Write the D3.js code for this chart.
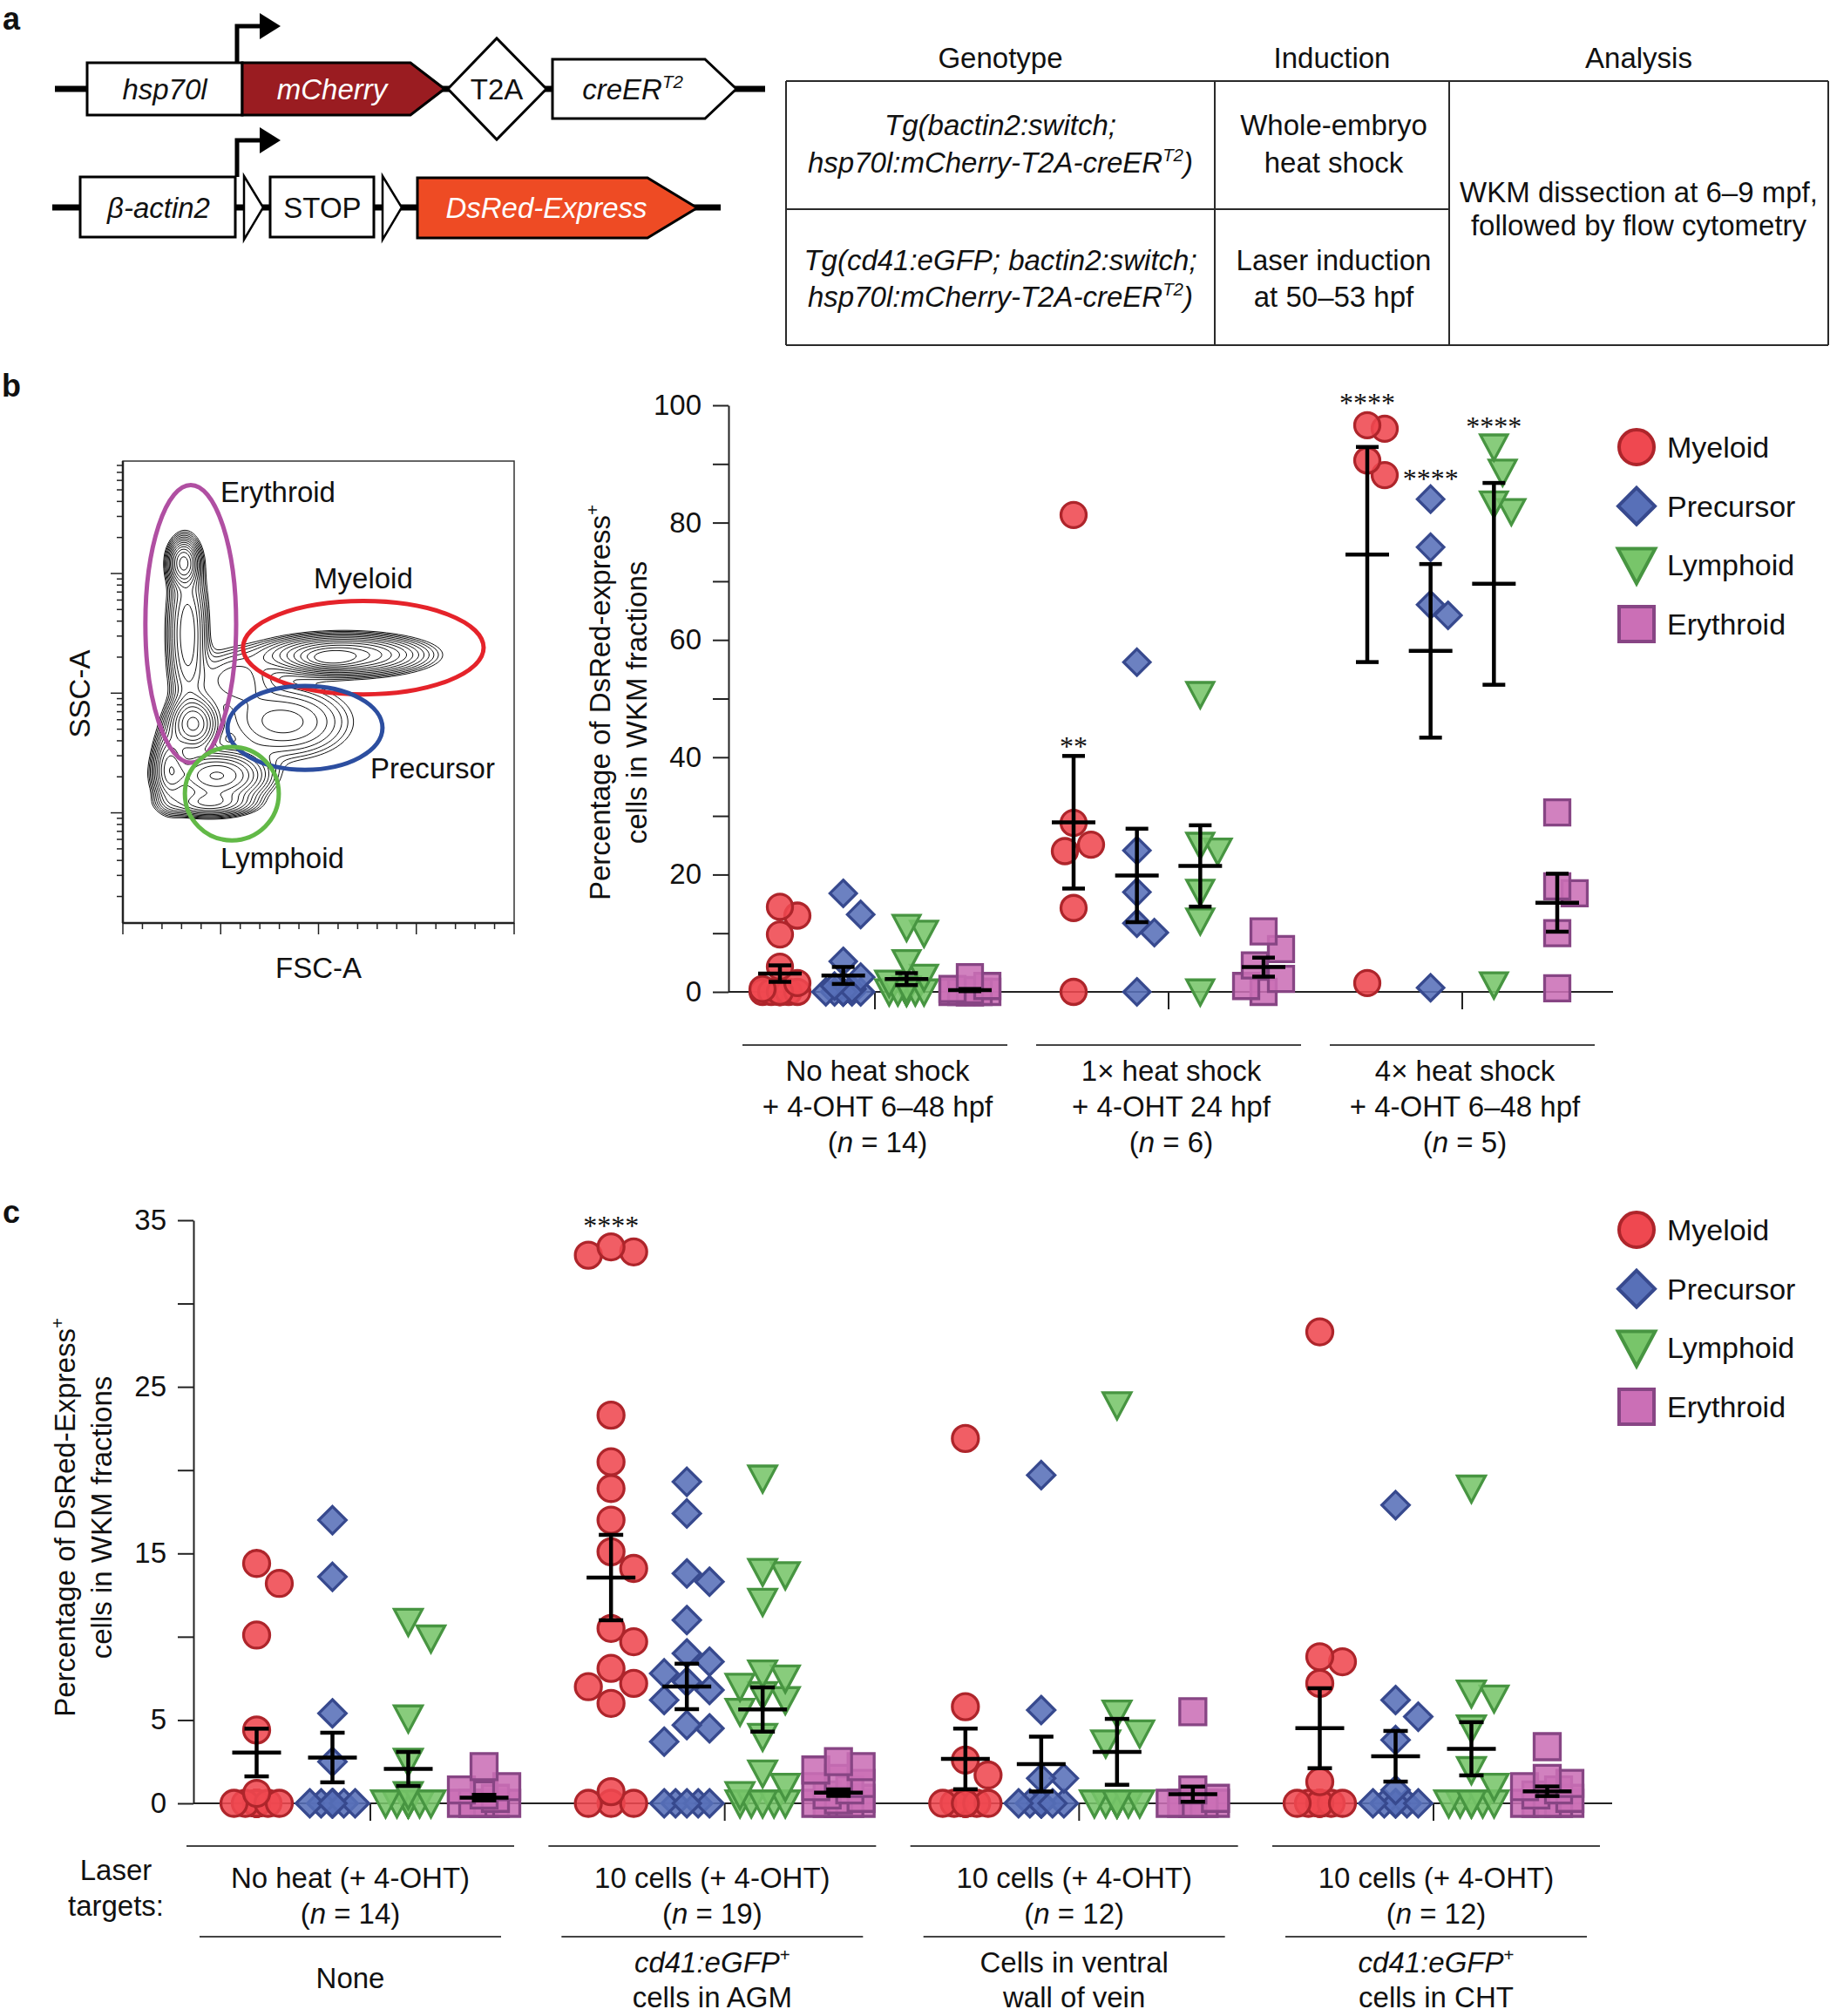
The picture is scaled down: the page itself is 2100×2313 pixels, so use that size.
<!DOCTYPE html>
<html>
<head>
<meta charset="utf-8">
<script src="https://cdnjs.cloudflare.com/ajax/libs/d3/7.8.5/d3.min.js"></script>
<style>
  body { margin: 0; background: #fff; }
  svg text { font-family: "Liberation Sans", Arial, Helvetica, sans-serif; fill: #111; }
  .plabel { font-weight: bold; font-size: 36px; }
  .stars { font-family: "Liberation Serif", "DejaVu Serif", serif !important; font-size: 32px; }
</style>
</head>
<body>
<div id="fig"></div>
<script>
// ---------------- DATA ----------------
var cellTypes = ["Myeloid", "Precursor", "Lymphoid", "Erythroid"];

// panel b : groups and values (% DsRed-express+ cells)
var bGroupLines = [
  ["No heat shock", "+ 4-OHT 6–48 hpf", "14"],
  ["1× heat shock", "+ 4-OHT 24 hpf", "6"],
  ["4× heat shock", "+ 4-OHT 6–48 hpf", "5"]
];
var bMyeloid = [
  [14.5, 13, 9.8, 4.3, 1.5, 0.5, 0, 0, 0, 0, 0, 0, 0, 0],
  [81.3, 28.8, 25.1, 24, 14.3, 0],
  [96, 96.6, 90.6, 88.1, 1.5]
];
var bPrecursor = [
  [16.8, 13.2, 5.2, 2.5, 1, 0.5, 0, 0, 0, 0, 0, 0, 0, 0],
  [56.2, 24.1, 17, 11.7, 10.1, 0],
  [84, 75.8, 66, 64.2, 0.7]
];
var bLymphoid = [
  [11, 10, 5, 2.5, 1.5, 0.5, 0, 0, 0, 0, 0, 0, 0, 0],
  [50.7, 25, 24, 17, 12.1, 0],
  [92.9, 88.6, 83.2, 81.9, 1.2]
];
var bErythroid = [
  [2.5, 1, 0.5, 0.3, 0, 0, 0, 0, 0, 0, 0, 0, 0, 0],
  [10.3, 7.3, 4.5, 2.2, 1, 0],
  [30.6, 18, 16.8, 10, 0.6]
];
// significance marks: group, cell type, level (value) where the marks sit
var bStars = [
  { group: 1, type: "Myeloid", text: "**", at: 42.5 },
  { group: 2, type: "Myeloid", text: "****", at: 101 },
  { group: 2, type: "Precursor", text: "****", at: 88.1 },
  { group: 2, type: "Lymphoid", text: "****", at: 97 }
];
var bTicks = [0, 10, 20, 30, 40, 50, 60, 70, 80, 90, 100];
var bTickLabels = [0, 20, 40, 60, 80, 100];

// panel c
var cGroupLines = [
  ["No heat (+ 4-OHT)", "14"],
  ["10 cells (+ 4-OHT)", "19"],
  ["10 cells (+ 4-OHT)", "12"],
  ["10 cells (+ 4-OHT)", "12"]
];
var cTargets = [
  [["None"]],
  [[{ t: "cd41:eGFP", i: true }, { t: "+", sup: true }], ["cells in AGM"]],
  [["Cells in ventral"], ["wall of vein"]],
  [[{ t: "cd41:eGFP", i: true }, { t: "+", sup: true }], ["cells in CHT"]]
];
var cMyeloid = [
  [14.4, 13.2, 10.1, 4.4, 0.6, 0, 0, 0, 0, 0, 0, 0, 0, 0],
  [33.4, 33.1, 32.9, 23.3, 20.5, 18.9, 17, 15.1, 14.1, 10.5, 9.7, 8.1, 7.2, 7.0, 6.0, 0.7, 0, 0, 0],
  [21.9, 5.8, 2.6, 1.7, 0, 0, 0, 0, 0, 0, 0, 0],
  [28.3, 8.8, 8.5, 7.2, 1.3, 0, 0, 0, 0, 0, 0, 0]
];
var cPrecursor = [
  [17, 13.6, 5.4, 2.5, 0, 0, 0, 0, 0, 0, 0, 0, 0, 0],
  [19.3, 17.4, 13.8, 13.3, 11, 9, 8.5, 7.8, 7.3, 6.8, 6.2, 4.7, 4.5, 3.7, 0, 0, 0, 0, 0],
  [19.7, 5.6, 1.5, 1.5, 0, 0, 0, 0, 0, 0, 0, 0],
  [17.9, 6.2, 5.2, 3.8, 0.8, 0, 0, 0, 0, 0, 0, 0]
];
var cLymphoid = [
  [10.9, 9.9, 5.1, 2.5, 0.5, 0, 0, 0, 0, 0, 0, 0, 0, 0],
  [19.5, 13.9, 13.7, 12.1, 7.8, 7.5, 7.0, 6.5, 6.2, 5.5, 4.0, 1.8, 1.0, 0.5, 0, 0, 0, 0, 0],
  [23.9, 5.4, 4.2, 3.6, 0, 0, 0, 0, 0, 0, 0, 0],
  [18.9, 6.6, 6.3, 4.5, 2.0, 1.0, 0, 0, 0, 0, 0, 0]
];
var cErythroid = [
  [2.2, 1, 0.8, 0.5, 0.3, 0, 0, 0, 0, 0, 0, 0, 0, 0],
  [2.5, 2.2, 2, 1.5, 1.2, 1, 0.8, 0.5, 0.3, 0.2, 0, 0, 0, 0, 0, 0, 0, 0, 0],
  [5.5, 0.8, 0.3, 0, 0, 0, 0, 0, 0, 0, 0, 0],
  [3.4, 1.5, 1.2, 1, 0.8, 0.5, 0.3, 0, 0, 0, 0, 0]
];
var cStars = [{ group: 1, type: "Myeloid", text: "****", at: 34.9 }];
var cTicks = [0, 5, 10, 15, 20, 25, 30, 35];
var cTickLabels = [0, 5, 15, 25, 35];

// flow cytometry plot: populations (FSC in K, log10 SSC), and gates
var populations = [
  { f: 31, l: 5.09, sf: 4, sl: 0.10, w: 1.0 },
  { f: 33, l: 4.50, sf: 5.5, sl: 0.36, w: 0.45 },
  { f: 36, l: 3.74, sf: 6.5, sl: 0.12, w: 1.0 },
  { f: 48, l: 3.31, sf: 13, sl: 0.11, w: 1.0 },
  { f: 24, l: 3.38, sf: 4.5, sl: 0.17, w: 0.6 },
  { f: 44, l: 3.08, sf: 12, sl: 0.06, w: 0.55 },
  { f: 113, l: 4.32, sf: 21, sl: 0.085, w: 0.9 },
  { f: 106, l: 4.29, sf: 8, sl: 0.045, w: 0.5 },
  { f: 82, l: 3.76, sf: 20, sl: 0.18, w: 0.25 },
  { f: 57, l: 4.12, sf: 12, sl: 0.14, w: 0.2 }
];
var gates = [
  { name: "Erythroid", f: 34.7, l: 4.58, rf: 23.2, rl: 1.16, color: "#B04FA2" },
  { name: "Myeloid", f: 122.9, l: 4.38, rf: 61.5, rl: 0.39, color: "#E5232A" },
  { name: "Precursor", f: 93.1, l: 3.71, rf: 39.6, rl: 0.35, color: "#2C4EA0" },
  { name: "Lymphoid", f: 55.7, l: 3.16, rf: 24, rl: 0.39, color: "#62B947" }
];

// ---------------- STYLE ----------------
var FS = 33;
var markerStyle = {
  Myeloid:   { fill: "#EF4850", stroke: "#AE252B" },
  Precursor: { fill: "#5870B8", stroke: "#37498E" },
  Lymphoid:  { fill: "#78C56A", stroke: "#479541" },
  Erythroid: { fill: "#CB6FB6", stroke: "#874584" }
};

var W = 2100, H = 2313;
var svg = d3.select("#fig").append("svg")
  .attr("width", W).attr("height", H)
  .attr("viewBox", "0 0 " + W + " " + H);
svg.append("rect").attr("width", W).attr("height", H).attr("fill", "#fff");

// text with italic / superscript runs
function addText(parent, x, y, parts, o) {
  o = o || {};
  var size = o.size || FS;
  var t = parent.append("text").attr("x", x).attr("y", y)
    .attr("text-anchor", o.anchor || "middle")
    .style("font-size", size + "px");
  if (o.fill) t.style("fill", o.fill);
  if (o.transform) t.attr("transform", o.transform);
  var raised = false;
  parts.forEach(function(p) {
    if (typeof p === "string") p = { t: p };
    var s = t.append("tspan").text(p.t);
    if (p.i || o.italic) s.style("font-style", "italic");
    if (p.sup) {
      s.style("font-size", (size * 0.62) + "px").attr("dy", -size * 0.4);
      raised = true;
    } else if (raised) {
      s.attr("dy", size * 0.4);
      raised = false;
    }
  });
  return t;
}

// marker shapes
function markerPath(type, s) {
  if (type === "Myeloid") {
    return "M" + (-s) + ",0a" + s + "," + s + " 0 1,0 " + (2 * s) + ",0a" + s + "," + s + " 0 1,0 " + (-2 * s) + ",0Z";
  }
  if (type === "Precursor") {
    var h = s * 1.05;
    return "M0," + (-h) + "L" + h + ",0L0," + h + "L" + (-h) + ",0Z";
  }
  if (type === "Lymphoid") {
    var w = s * 1.07, hh = s * 1.0;
    return "M" + (-w) + "," + (-hh * 0.95) + "L" + w + "," + (-hh * 0.95) + "L0," + (hh * 1.05) + "Z";
  }
  var q = s * 1.0;
  return "M" + (-q) + "," + (-q) + "H" + q + "V" + q + "H" + (-q) + "Z";
}

// ================= PANEL a =================
var pa = svg.append("g");
pa.append("text").attr("class", "plabel").attr("x", 3).attr("y", 34).text("a");

function arrowShape(x0, x1, tip, y0, y1) {
  var m = (y0 + y1) / 2;
  return "M" + x0 + "," + y0 + "H" + x1 + "L" + tip + "," + m + "L" + x1 + "," + y1 + "H" + x0 + "Z";
}
function promoter(x, yBox) {
  pa.append("path").attr("d", "M" + x + "," + yBox + "V" + (yBox - 42) + "H" + 302)
    .attr("fill", "none").attr("stroke", "#000").attr("stroke-width", 5);
  pa.append("path").attr("d", "M" + 298 + "," + (yBox - 57) + "L" + 322 + "," + (yBox - 42) + "L" + 298 + "," + (yBox - 27) + "Z")
    .attr("fill", "#000");
}
var r1 = 102, r2 = 238;
pa.append("line").attr("x1", 63).attr("x2", 878).attr("y1", r1).attr("y2", r1).attr("stroke", "#000").attr("stroke-width", 7);
pa.append("rect").attr("x", 100).attr("y", 72).attr("width", 178).attr("height", 60).attr("fill", "#fff").attr("stroke", "#000").attr("stroke-width", 3);
pa.append("path").attr("d", arrowShape(278, 471, 510, 72, 132)).attr("fill", "#9A1C21").attr("stroke", "#000").attr("stroke-width", 3);
pa.append("path").attr("d", "M514," + r1 + "L570,44L627," + r1 + "L570,160Z").attr("fill", "#fff").attr("stroke", "#000").attr("stroke-width", 3);
pa.append("path").attr("d", arrowShape(634, 809, 845, 68, 136)).attr("fill", "#fff").attr("stroke", "#000").attr("stroke-width", 3);
promoter(272, 72);
addText(pa, 189, r1 + 12, [{ t: "hsp70l", i: true }]);
addText(pa, 381, r1 + 12, [{ t: "mCherry", i: true }], { fill: "#fff" });
addText(pa, 570, r1 + 12, ["T2A"]);
addText(pa, 726, r1 + 12, [{ t: "creER", i: true }, { t: "T2", sup: true, i: true }]);

pa.append("line").attr("x1", 60).attr("x2", 827).attr("y1", r2).attr("y2", r2).attr("stroke", "#000").attr("stroke-width", 7);
pa.append("rect").attr("x", 92).attr("y", 203).attr("width", 178).attr("height", 69).attr("fill", "#fff").attr("stroke", "#000").attr("stroke-width", 3);
[280, 439].forEach(function(x) {
  pa.append("path").attr("d", "M" + x + ",202L" + (x + 22) + "," + r2 + "L" + x + ",275Z")
    .attr("fill", "#fff").attr("stroke", "#000").attr("stroke-width", 2.5);
});
pa.append("rect").attr("x", 310).attr("y", 203).attr("width", 119).attr("height", 69).attr("fill", "#fff").attr("stroke", "#000").attr("stroke-width", 3);
pa.append("path").attr("d", arrowShape(479, 743, 800, 204, 273)).attr("fill", "#EE4B24").attr("stroke", "#000").attr("stroke-width", 3);
promoter(272, 203);
addText(pa, 182, r2 + 12, [{ t: "β-actin2", i: true }]);
addText(pa, 370, r2 + 12, ["STOP"]);
addText(pa, 627, r2 + 12, [{ t: "DsRed-Express", i: true }], { fill: "#fff" });

// table
var colX = [902, 1394, 1663, 2098], rowY = [93, 240, 396];
var tb = pa.append("g").attr("stroke", "#2a2a2a").attr("stroke-width", 2);
tb.append("line").attr("x1", colX[0]).attr("x2", colX[3]).attr("y1", rowY[0]).attr("y2", rowY[0]);
tb.append("line").attr("x1", colX[0]).attr("x2", colX[3]).attr("y1", rowY[2]).attr("y2", rowY[2]);
tb.append("line").attr("x1", colX[0]).attr("x2", colX[2]).attr("y1", rowY[1]).attr("y2", rowY[1]);
colX.forEach(function(x) { tb.append("line").attr("x1", x).attr("x2", x).attr("y1", rowY[0]).attr("y2", rowY[2]); });
var colC = [(colX[0] + colX[1]) / 2, (colX[1] + colX[2]) / 2, (colX[2] + colX[3]) / 2];
["Genotype", "Induction", "Analysis"].forEach(function(h, i) { addText(pa, colC[i], 78, [h]); });
var hspLine = [{ t: "hsp70l:mCherry-T2A-creER", i: true }, { t: "T2", sup: true, i: true }, { t: ")", i: true }];
addText(pa, colC[0], 155, [{ t: "Tg(bactin2:switch;", i: true }]);
addText(pa, colC[0], 198, hspLine);
addText(pa, colC[0], 310, [{ t: "Tg(cd41:eGFP; bactin2:switch;", i: true }]);
addText(pa, colC[0], 352, hspLine);
addText(pa, colC[1] + 2, 155, ["Whole-embryo"]);
addText(pa, colC[1] + 2, 198, ["heat shock"]);
addText(pa, colC[1] + 2, 310, ["Laser induction"]);
addText(pa, colC[1] + 2, 352, ["at 50–53 hpf"]);
addText(pa, colC[2], 232, ["WKM dissection at 6–9 mpf,"]);
addText(pa, colC[2], 270, ["followed by flow cytometry"]);

// ================= PANEL b: flow plot =================
svg.append("text").attr("class", "plabel").attr("x", 2).attr("y", 455).text("b");
var fl = svg.append("g");
var fsc = d3.scaleLinear().domain([0, 200]).range([141, 590]);
var ssc = d3.scaleLog().domain([120, 870000]).range([1059, 529]);
var fx0 = fsc.range()[0], fx1 = fsc.range()[1], fy0 = ssc.range()[1], fy1 = ssc.range()[0];

// density contours
var step = 2;
var nx = Math.ceil((fx1 - fx0) / step), ny = Math.ceil((fy1 - fy0) / step);
var grid = new Float64Array(nx * ny);
for (var j = 0; j < ny; j++) {
  var lv = Math.log10(ssc.invert(fy0 + (j + 0.5) * step));
  for (var i = 0; i < nx; i++) {
    var fv = fsc.invert(fx0 + (i + 0.5) * step), s = 0;
    populations.forEach(function(p) {
      var a = (fv - p.f) / p.sf, b = (lv - p.l) / p.sl;
      s += p.w * Math.exp(-0.5 * (a * a + b * b));
    });
    grid[j * nx + i] = s;
  }
}
var levels = d3.range(13).map(function(k) { return 0.05 * Math.pow(1.28, k); });
var contours = d3.contours().size([nx, ny]).thresholds(levels)(grid);
var proj = d3.geoPath(d3.geoIdentity().scale(step).translate([fx0, fy0]));
fl.append("clipPath").attr("id", "flowclip").append("rect")
  .attr("x", fx0).attr("y", fy0).attr("width", fx1 - fx0).attr("height", fy1 - fy0);
fl.append("g").attr("clip-path", "url(#flowclip)").selectAll("path").data(contours).enter().append("path")
  .attr("d", proj).attr("fill", "none").attr("stroke", "#111").attr("stroke-width", 1);

// frame and ticks
fl.append("rect").attr("x", fx0).attr("y", fy0).attr("width", fx1 - fx0).attr("height", fy1 - fy0)
  .attr("fill", "none").attr("stroke", "#333").attr("stroke-width", 1.5);
fl.append("line").attr("x1", fx0).attr("x2", fx0).attr("y1", fy0).attr("y2", fy1).attr("stroke", "#222").attr("stroke-width", 2.5);
fl.append("line").attr("x1", fx0).attr("x2", fx1).attr("y1", fy1).attr("y2", fy1).attr("stroke", "#222").attr("stroke-width", 2.5);
var logTicks = [];
[2, 3, 4, 5].forEach(function(d) {
  for (var k = 1; k < 10; k++) {
    var v = k * Math.pow(10, d);
    if (v >= ssc.domain()[0] && v <= ssc.domain()[1]) logTicks.push({ v: v, major: k === 1 });
  }
});
fl.selectAll(".yt").data(logTicks).enter().append("line")
  .attr("x1", function(d) { return fx0 - (d.major ? 14 : 7); }).attr("x2", fx0)
  .attr("y1", function(d) { return ssc(d.v); }).attr("y2", function(d) { return ssc(d.v); })
  .attr("stroke", "#222").attr("stroke-width", 1.5);
fl.selectAll(".xt").data(d3.range(0, 201, 10)).enter().append("line")
  .attr("x1", function(d) { return fsc(d); }).attr("x2", function(d) { return fsc(d); })
  .attr("y1", fy1).attr("y2", function(d) { return fy1 + (d % 50 === 0 ? 13 : 7); })
  .attr("stroke", "#222").attr("stroke-width", 1.5);

// gates
var gateLabel = { Erythroid: [34, 20, "start"], Myeloid: [0, -15, "middle"], Precursor: [-14, 10, "start"], Lymphoid: [-13, 32, "start"] };
gates.forEach(function(g) {
  var cx = fsc(g.f), cy = ssc(Math.pow(10, g.l));
  var rx = fsc(g.f + g.rf) - cx, ry = ssc(Math.pow(10, g.l - g.rl)) - cy;
  fl.append("ellipse").attr("cx", cx).attr("cy", cy).attr("rx", rx).attr("ry", ry)
    .attr("fill", "none").attr("stroke", g.color).attr("stroke-width", 5);
  var o = gateLabel[g.name], lx, ly;
  if (g.name === "Precursor") { lx = cx + rx + o[0]; ly = cy + ry + o[1]; }
  else if (g.name === "Lymphoid") { lx = cx + o[0]; ly = cy + ry + o[1]; }
  else { lx = cx + o[0]; ly = cy - ry + o[1]; }
  addText(fl, lx, ly, [g.name], { anchor: o[2] });
});
addText(fl, (fx0 + fx1) / 2, 1122, ["FSC-A"]);
addText(fl, 0, 0, ["SSC-A"], { transform: "translate(103," + ((fy0 + fy1) / 2 + 2) + ") rotate(-90)" });

// ================= dot plot helper =================
function dodge(values, y, r, st) {
  var placed = [];
  var order = values.slice().sort(function(a, b) { return b - a; });
  var cands = [0, st, -st, 2 * st, -2 * st];
  order.forEach(function(v) {
    var py = y(v), best = 0, bestD = -1;
    for (var k = 0; k < cands.length; k++) {
      var md = Infinity;
      placed.forEach(function(q) { var d = Math.hypot(q.dx - cands[k], q.py - py); if (d < md) md = d; });
      if (md >= 2 * r) { best = cands[k]; break; }
      if (md > bestD + 0.01) { bestD = md; best = cands[k]; }
    }
    placed.push({ v: v, py: py, dx: best });
  });
  return placed;
}

function dotPanel(cfg) {
  var g = svg.append("g");
  var y = d3.scaleLinear().domain(cfg.yDomain).range(cfg.yRange);
  var gx = d3.scalePoint().domain(d3.range(cfg.nGroups)).range(cfg.groupRange);
  var cx = d3.scalePoint().domain(cellTypes).range([-cfg.catHalf, cfg.catHalf]);
  var series = { Myeloid: cfg.data[0], Precursor: cfg.data[1], Lymphoid: cfg.data[2], Erythroid: cfg.data[3] };

  // axis
  var ax = g.append("g").attr("transform", "translate(" + cfg.axisX + ",0)")
    .call(d3.axisLeft(y).tickValues(cfg.ticks).tickSize(18).tickSizeOuter(0).tickPadding(13)
      .tickFormat(function(d) { return cfg.tickLabels.indexOf(d) >= 0 ? d : ""; }));
  ax.selectAll("path,line").attr("stroke", "#222").attr("stroke-width", 2);
  ax.selectAll("text").style("font-size", FS + "px").attr("fill", "#111");
  g.append("line").attr("x1", cfg.axisX).attr("x2", cfg.axisEnd).attr("y1", y(0)).attr("y2", y(0))
    .attr("stroke", "#222").attr("stroke-width", 2);
  gx.domain().forEach(function(k) {
    g.append("line").attr("x1", gx(k)).attr("x2", gx(k)).attr("y1", y(0)).attr("y2", y(0) + 20)
      .attr("stroke", "#222").attr("stroke-width", 2);
  });

  var stats = {};
  cellTypes.forEach(function(t) {
    series[t].forEach(function(vals, k) {
      var pts = dodge(vals, y, cfg.r, cfg.step);
      var st = markerStyle[t];
      g.append("g").selectAll("path").data(pts.slice().reverse()).enter().append("path")
        .attr("d", markerPath(t, cfg.r))
        .attr("transform", function(d) { return "translate(" + (gx(k) + cx(t) + d.dx) + "," + d.py + ")"; })
        .attr("fill", st.fill).attr("fill-opacity", 0.88)
        .attr("stroke", st.stroke).attr("stroke-width", 3.3);
      var m = d3.mean(vals), sem = d3.deviation(vals) / Math.sqrt(vals.length);
      stats[t + k] = { m: m, sem: sem };
    });
  });
  // mean +/- SEM
  cellTypes.forEach(function(t) {
    series[t].forEach(function(vals, k) {
      var s = stats[t + k], x = gx(k) + cx(t);
      var eb = g.append("g").attr("stroke", "#000").attr("stroke-width", 4.5);
      eb.append("line").attr("x1", x).attr("x2", x).attr("y1", y(s.m + s.sem)).attr("y2", y(Math.max(0, s.m - s.sem)));
      eb.append("line").attr("x1", x - cfg.meanHalf).attr("x2", x + cfg.meanHalf).attr("y1", y(s.m)).attr("y2", y(s.m));
      [s.m + s.sem, Math.max(0, s.m - s.sem)].forEach(function(v) {
        eb.append("line").attr("x1", x - cfg.capHalf).attr("x2", x + cfg.capHalf).attr("y1", y(v)).attr("y2", y(v));
      });
    });
  });
  // significance stars
  cfg.stars.forEach(function(st) {
    g.append("text").attr("class", "stars").attr("text-anchor", "middle")
      .attr("x", gx(st.group) + cx(st.type)).attr("y", y(st.at) + 15).text(st.text);
  });
  // legend
  cellTypes.forEach(function(t, i) {
    var ly = cfg.legendY + i * 67.7;
    var st = markerStyle[t];
    g.append("path").attr("d", markerPath(t, 20)).attr("transform", "translate(" + cfg.legendX + "," + ly + ")")
      .attr("fill", st.fill).attr("stroke", st.stroke).attr("stroke-width", 4);
    addText(g, cfg.legendX + 35, ly + 12, [t], { anchor: "start", size: 34 });
  });
  // y title
  addText(g, 0, 0, ["Percentage of " + cfg.titleWord, { t: "+", sup: true }],
    { transform: "translate(" + cfg.titleX[0] + "," + cfg.titleY + ") rotate(-90)" });
  addText(g, 0, 0, ["cells in WKM fractions"],
    { transform: "translate(" + cfg.titleX[1] + "," + cfg.titleY + ") rotate(-90)" });
  return { g: g, y: y, gx: gx };
}

// ================= PANEL b: dot plot =================
var pb = dotPanel({
  yDomain: [0, 100], yRange: [1138, 465], ticks: bTicks, tickLabels: bTickLabels,
  axisX: 836, axisEnd: 1851, nGroups: 3, groupRange: [1004, 1678], catHalf: 109,
  data: [bMyeloid, bPrecursor, bLymphoid, bErythroid], r: 14.5, step: 10,
  meanHalf: 25, capHalf: 13, stars: bStars,
  legendX: 1878, legendY: 513, titleWord: "DsRed-express", titleX: [700, 742], titleY: 806
});
bGroupLines.forEach(function(lines, k) {
  var c = pb.gx(k);
  pb.g.append("line").attr("x1", c - 152).attr("x2", c + 152).attr("y1", 1199).attr("y2", 1199)
    .attr("stroke", "#444").attr("stroke-width", 2);
  addText(pb.g, c + 3, 1240, [lines[0]]);
  addText(pb.g, c + 3, 1281, [lines[1]]);
  addText(pb.g, c + 3, 1322, ["(", { t: "n", i: true }, " = " + lines[2] + ")"]);
});

// ================= PANEL c =================
svg.append("text").attr("class", "plabel").attr("x", 3).attr("y", 1403).text("c");
var pc = dotPanel({
  yDomain: [0, 35], yRange: [2069, 1400], ticks: cTicks, tickLabels: cTickLabels,
  axisX: 222, axisEnd: 1850, nGroups: 4, groupRange: [425, 1645], catHalf: 130.5,
  data: [cMyeloid, cPrecursor, cLymphoid, cErythroid], r: 15, step: 13,
  meanHalf: 28, capHalf: 14, stars: cStars,
  legendX: 1878, legendY: 1411, titleWord: "DsRed-Express", titleX: [86, 128], titleY: 1741
});
var labX = d3.scalePoint().domain(d3.range(4)).range([402, 1648]);
addText(pc.g, 133, 2157, ["Laser"]);
addText(pc.g, 133, 2198, ["targets:"]);
cGroupLines.forEach(function(lines, k) {
  var c = labX(k);
  pc.g.append("line").attr("x1", c - 188).attr("x2", c + 188).attr("y1", 2118).attr("y2", 2118)
    .attr("stroke", "#444").attr("stroke-width", 2);
  pc.g.append("line").attr("x1", c - 173).attr("x2", c + 173).attr("y1", 2222).attr("y2", 2222)
    .attr("stroke", "#444").attr("stroke-width", 2);
  addText(pc.g, c, 2166, [lines[0]]);
  addText(pc.g, c, 2207, ["(", { t: "n", i: true }, " = " + lines[1] + ")"]);
  var tl = cTargets[k];
  if (tl.length === 1) addText(pc.g, c, 2281, tl[0]);
  else { addText(pc.g, c, 2263, tl[0]); addText(pc.g, c, 2303, tl[1]); }
});
</script>
</body>
</html>
